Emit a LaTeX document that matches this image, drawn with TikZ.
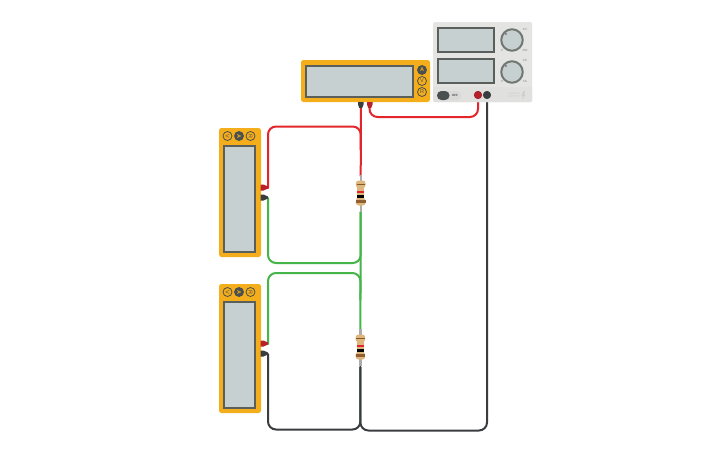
\documentclass[tikz,border=0pt]{standalone}
\usepackage{fontspec}
\setmainfont{Liberation Sans}
\definecolor{mOrange}{HTML}{F5AE1B}
\definecolor{mScreen}{HTML}{C7D0D1}
\definecolor{mFrame}{HTML}{5A5F5C}
\definecolor{mDark}{HTML}{4A4F50}
\definecolor{wRed}{HTML}{E3262B}
\definecolor{wGreen}{HTML}{45B549}
\definecolor{wBlack}{HTML}{3A3D3F}
\definecolor{psuBody}{HTML}{E4E4E3}
\definecolor{psuPanel}{HTML}{E0E0DF}
\definecolor{tipRed}{HTML}{B8202A}
\definecolor{resBody}{HTML}{DDB77E}
\tikzset{
  wire/.style={line width=2pt,rounded corners=8pt,line cap=round},
  redwire/.style={wire,draw=wRed},
  greenwire/.style={wire,draw=wGreen},
  blackwire/.style={wire,draw=wBlack},
  meterbody/.style={fill=mOrange,rounded corners=2.5pt,draw=none},
  screen/.style={fill=mScreen,draw=mFrame,line width=2.3pt},
  btn/.style={circle,draw=mDark,line width=.8pt,fill=mOrange,minimum size=9pt,inner sep=0pt,font=\fontsize{5.5}{5.5}\selectfont,text=mDark},
  btnon/.style={btn,fill=mDark,text=mOrange},
  knob/.style={circle,fill=mScreen,draw=mFrame!85!white,line width=2pt,minimum size=21.5pt,inner sep=0pt},
  term/.style={circle,minimum size=7.6pt,inner sep=0pt},
  tiny/.style={font=\fontsize{3}{3}\selectfont,text=gray,inner sep=0pt}
}
\begin{document}
\begin{tikzpicture}[x=1pt,y=-1pt]
\useasboundingbox[fill=white] (0,0) rectangle (725,453);

% wires first
\coordinate (amBlack) at (361,104);
\coordinate (amRed) at (369.5,104);
\coordinate (r1top) at (360.7,176);
\coordinate (r1bot) at (360.7,212);
\coordinate (r2top) at (360.4,330);
\coordinate (r2bot) at (360.4,367);
\coordinate (m1plus) at (268,188);
\coordinate (m1minus) at (268,198);
\coordinate (m2plus) at (268,344);
\coordinate (m2minus) at (268,354);
\coordinate (psuRed) at (478,96);
\coordinate (psuBlack) at (487,96);

\draw[blackwire] (psuBlack) -- (487,430.5) -- (360.4,430.5) -- (r2bot);
\draw[blackwire] (m2minus) -- (268,429.5) -- (360.4,429.5) -- (r2bot);
\draw[greenwire] (m2plus) -- (268,273) -- (360.4,273) -- (360.4,300);
\draw[greenwire] (m1minus) -- (268,263) -- (360.7,263) -- (r1bot);
\draw[greenwire] (r1bot) -- (r2top);
\draw[redwire] (m1plus) -- (268,126.5) -- (360.7,126.5) -- (360.7,150);
\draw[redwire] (amBlack) -- (r1top);
\draw[redwire] (amRed) -- (369.5,117) -- (478,117) -- (psuRed);

% power supply
\fill[psuBody,rounded corners=1.5pt] (433,22) rectangle (532,102);
\fill[psuPanel,rounded corners=1pt] (433,87) rectangle (532,102);
\draw[screen] (438.2,28.2) rectangle (493.8,51.8);
\draw[screen] (438.2,59.2) rectangle (493.8,82.8);
\node[knob] (k1) at (512,40) {};
\node[knob] (k2) at (512,72) {};
\fill[mDark] (506,34) circle (.8pt) (506,66) circle (.8pt);
\node[tiny] at (502,50) {0};
\node[tiny] at (525,50.5) {30V};
\node[tiny] at (502,81.5) {0};
\node[tiny] at (525,81.5) {5A};
\node[tiny] at (525,29) {CV};
\node[tiny] at (525,60) {CC};
\fill[gray!30!white,rounded corners=4pt] (437,91) rectangle (461,100);
\fill[mDark,rounded corners=4.4pt] (437,91) rectangle (449.5,100);
\node[tiny,text=mDark] at (455,95.5) {\textbf{OFF}};
\node[tiny,text=gray!40!white,align=center] at (514,95) {\fontsize{2.6}{3}\selectfont VOLTAGE\\SUPPLY};
\fill[gray!40!white] (523.5,91) -- (525,91) -- (524,94.5) -- (525.5,94.5) -- (522,99.5) -- (523,95.5) -- (521.5,95.5) -- cycle;
\node[term,fill=tipRed,draw=tipRed!80!black,line width=.5pt] (tr) at (478,95) {};
\node[term,fill=wBlack,draw=wBlack,line width=.5pt] (tb) at (487,95) {};

% ammeter
\fill[meterbody] (301,60) rectangle (430,102);
\draw[screen] (306,66) rectangle (413,96.7);
\node[btnon] (ba) at (422,70) {\textbf{A}};
\node[btn] (bv) at (422,81) {V};
\node[btn] (br) at (422,92) {R};
\fill[wBlack] (358,102) -- (363.5,102) -- (363.5,104.5) -- (362.2,108) -- (359.3,108) -- (358,104.5) -- cycle;
\fill[tipRed] (367,102) -- (372.5,102) -- (372.5,104.5) -- (371.2,108) -- (368.3,108) -- (367,104.5) -- cycle;

% meters
\foreach \n/\dy in {one/0,two/156}{
  \begin{scope}[yshift=-\dy pt]
    \fill[meterbody] (219,128) rectangle (261,257);
    \draw[screen] (224.3,145.8) rectangle (254.8,252);
    \node[btn,rotate=-90] (vl\n) at (227.5,136) {V};
    \node[btnon,rotate=-90] (vm\n) at (239,136) {\textbf{A}};
    \node[btn,rotate=-90] (vr\n) at (250.5,136) {R};
    \fill[tipRed] (260.5,184.5) -- (263.5,184.5) -- (268,186.5) -- (268,188.5) -- (263.5,190.5) -- (260.5,190.5) -- cycle;
    \fill[wBlack] (260.5,194.5) -- (263.5,194.5) -- (268,196.5) -- (268,198.5) -- (263.5,200.5) -- (260.5,200.5) -- cycle;
  \end{scope}
}

% resistors
\foreach \n/\x/\y in {a/360.7/175,b/360.4/329}{
  \begin{scope}[shift={(\x pt,-\y pt)}]
    \fill[gray!65!white] (-1.1,0) rectangle (1.1,37);
    \fill[resBody,rounded corners=2.8pt] (-4.8,5.5) rectangle (4.8,13);
    \fill[resBody] (-3.6,12) rectangle (3.6,25);
    \fill[resBody,rounded corners=2.8pt] (-4.8,23) rectangle (4.8,30.5);
    \fill[brown!70!black] (-4.2,9) rectangle (4.2,10);
    \fill[wRed] (-3.6,15.8) rectangle (3.6,18.4);
    \fill[black] (-3.6,19.6) rectangle (3.6,23);
    \fill[brown!75!black] (-4.8,25) rectangle (4.8,28);
  \end{scope}
}
\end{tikzpicture}
\end{document}
